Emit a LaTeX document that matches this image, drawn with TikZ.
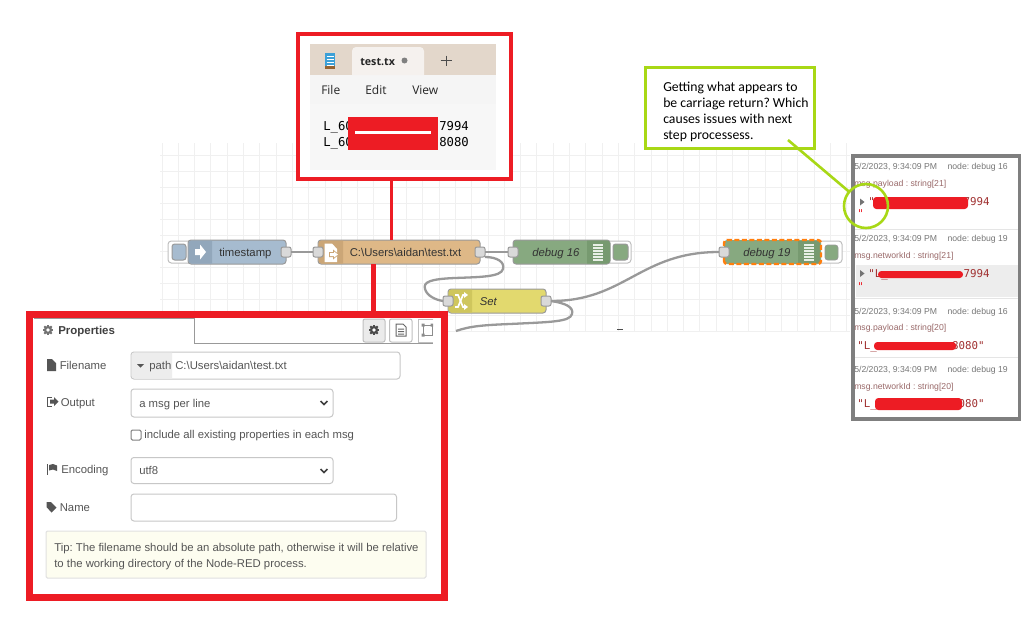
\documentclass[tikz,border=0pt]{standalone}
\usepackage{fontspec}
\setmainfont{Liberation Sans}
\newfontfamily\calloutfont{Carlito}
\newfontfamily\uifont{Open Sans}
\newfontfamily\codefont{DejaVu Sans Mono}
\definecolor{redbox}{HTML}{ED1C24}
\definecolor{limeb}{HTML}{A8D816}
\definecolor{gridc}{HTML}{F0F0F0}
\definecolor{wirec}{HTML}{999999}
\definecolor{blueN}{HTML}{A6BBCF}
\definecolor{blueD}{HTML}{92A7BB}
\definecolor{fileN}{HTML}{DEB887}
\definecolor{fileD}{HTML}{CBA677}
\definecolor{dbgN}{HTML}{87A980}
\definecolor{dbgD}{HTML}{779A70}
\definecolor{dbgL}{HTML}{E8EFE6}
\definecolor{setN}{HTML}{E2D96E}
\definecolor{setD}{HTML}{CFC65D}
\definecolor{uitext}{HTML}{555555}
\definecolor{panelb}{HTML}{7F7F7F}
\definecolor{dbgmeta}{HTML}{777777}
\definecolor{dbgname}{HTML}{9A6A6A}
\definecolor{dbgval}{HTML}{A03030}
\definecolor{orangeN}{HTML}{FF7F0E}
\definecolor{tabbar}{HTML}{E3D7CB}
\definecolor{tabface}{HTML}{F5F1EE}
\definecolor{tipbg}{HTML}{FDFDF0}
\definecolor{padblue}{HTML}{3CA0D7}
\definecolor{padbrown}{HTML}{966432}
\newcommand{\gearicon}[3]{%
  \begin{scope}[shift={(#1,#2)}]
    \foreach \a in {0,45,...,315}{\draw[#3,line width=1.8*0.75pt] (0,0) -- (\a:5.2);}
    \fill[#3] (0,0) circle[radius=4.2];
    \fill[white] (0,0) circle[radius=1.8];
  \end{scope}}
\tikzset{
  x=0.75pt,y=-0.75pt,
  flownode/.style={draw=wirec,line width=0.75pt,outer sep=0pt,rounded corners=3*0.75pt,minimum height=24*0.75pt,inner sep=0pt,anchor=west},
  port/.style={draw=wirec,fill=black!15,line width=0.75pt,outer sep=0pt,rounded corners=1.5pt,minimum size=10*0.75pt,inner sep=0pt},
  wire/.style={draw=wirec,line width=2.3*0.75pt},
  framebox/.style={fill=white,outer sep=0pt,inner sep=0pt,anchor=north west},
  lbl/.style={inner sep=0pt,anchor=mid west,yshift=-0.5pt,font=\fontsize{8.5}{11}\selectfont,text=black!80},
  lblit/.style={lbl,font=\itshape\fontsize{8.5}{11}\selectfont},
  ui/.style={inner sep=0pt,anchor=mid west,yshift=-0.5pt,font=\fontsize{8.5}{11}\selectfont,text=uitext},
  uibox/.style={draw=black!22,fill=white,line width=0.75pt,outer sep=0pt,rounded corners=2.2pt,inner sep=0pt,anchor=north west},
  meta/.style={inner sep=0pt,anchor=mid west,font=\fontsize{6.5}{8}\selectfont,text=dbgmeta},
  mname/.style={inner sep=0pt,anchor=mid west,font=\fontsize{6.5}{8}\selectfont,text=dbgname},
  mval/.style={inner sep=0pt,anchor=mid west,font=\codefont\fontsize{8.1}{9}\selectfont,text=dbgval},
  menu/.style={inner sep=0pt,anchor=mid west,yshift=-1pt,font=\uifont\fontsize{9}{11}\selectfont,text=black!85},
  code/.style={inner sep=0pt,anchor=mid west,font=\codefont\fontsize{9.2}{11}\selectfont,text=black},
  callout/.style={inner sep=0pt,anchor=mid west,font=\calloutfont\fontsize{10.3}{12}\selectfont,text=black},
  scrib/.style={fill=redbox,rounded corners=2.5pt},
}
\begin{document}
\frenchspacing
\begin{tikzpicture}
\useasboundingbox[fill=white] (0,0) rectangle (1024,621);
% grid
\begin{scope}
  \clip (160,143) rectangle (850,331);
  \foreach \gx in {0,...,42}{\draw[gridc,line width=1*0.75pt] (162+16.3*\gx,143) -- (162+16.3*\gx,331);}
  \foreach \gy in {0,...,11}{\draw[gridc,line width=1*0.75pt] (160,155+16.05*\gy) -- (850,155+16.05*\gy);}
\end{scope}
\draw[black!70,line width=0.75pt] (617,329) -- (623,329);

% flow nodes: timestamp
\draw[draw=black!25,fill=white,line width=0.75pt,rounded corners=2.5pt] (168,241) rectangle (192,263);
\fill[blueN,draw=wirec,line width=0.75pt,rounded corners=2pt] (172,244) rectangle (186,260);
\node[flownode,fill=blueN,minimum width=98*0.75pt] (nTime) at (188,252) {};
\fill[blueD,rounded corners=2.2pt] (212,240.5) -- (188.5,240.5) -- (188.5,263.5) -- (212,263.5);
\fill[white] (195,249) -- (200,249) -- (200,244.5) -- (206,252) -- (200,259.5) -- (200,255) -- (195,255) -- cycle;
\node[lbl] (tTime) at (219,252) {timestamp};

% file node
\node[flownode,fill=fileN,minimum width=162*0.75pt] (nFile) at (318,252) {};
\fill[fileD,rounded corners=2.2pt] (343,240.5) -- (318.5,240.5) -- (318.5,263.5) -- (343,263.5);
\fill[white] (324.5,243.5) -- (332,243.5) -- (337,249) -- (337,262) -- (324.5,262) -- cycle;
\fill[fileD] (329,252) -- (333,252) -- (333,249.5) -- (339,254.5) -- (333,259.5) -- (333,257) -- (329,257) -- cycle;
\fill[white] (330,253) -- (334,253) -- (334,251.5) -- (338,254.5) -- (334,257.5) -- (334,256) -- (330,256) -- cycle;
\node[lbl] (tFile) at (349.5,252) {C:\textbackslash Users\textbackslash aidan\textbackslash test.txt};

% debug 16
\draw[draw=black!25,fill=white,line width=0.75pt,rounded corners=2.5pt] (607,241) rectangle (631,263);
\fill[dbgN,draw=wirec,line width=0.75pt,rounded corners=2pt] (613,244) rectangle (628,260);
\node[flownode,fill=dbgN,minimum width=97*0.75pt] (nDbgA) at (513,252) {};
\fill[dbgD,rounded corners=2.2pt] (587,240.5) -- (610,240.5) -- (610,263.5) -- (587,263.5);
\foreach \ly in {245,248,251,254,257,260}{\draw[dbgL,line width=1.2*0.75pt] (593,\ly) -- (603,\ly);}
\node[lblit] (tDbgA) at (532,252) {debug 16};

% Set
\node[flownode,fill=setN,minimum width=98*0.75pt] (nSet) at (448,301) {};
\fill[setD,rounded corners=2.2pt] (472,289.5) -- (448.5,289.5) -- (448.5,312.5) -- (472,312.5);
\draw[white,line width=1.7*0.75pt] (455,295) -- (458,295) -- (463,307) -- (465,307);
\draw[white,line width=1.7*0.75pt] (455,307) -- (458,307) -- (463,295) -- (465,295);
\fill[white] (464,292) -- (468,295) -- (464,298) -- cycle;
\fill[white] (464,304) -- (468,307) -- (464,310) -- cycle;
\node[lblit] (tSet) at (479.5,301) {Set};

% debug 19
\draw[draw=black!25,fill=white,line width=0.75pt,rounded corners=2.5pt] (818,241) rectangle (842,263);
\fill[dbgN,draw=wirec,line width=0.5pt,rounded corners=2pt] (825,245) rectangle (838,260);
\node[draw=none,fill=dbgN,outer sep=0pt,rounded corners=3*0.75pt,minimum height=24*0.75pt,minimum width=97*0.75pt,inner sep=0pt,anchor=west] (nDbgB) at (724,252) {};
\fill[dbgD] (798,241) rectangle (820,263);
\foreach \ly in {245,248,251,254,257,260}{\draw[dbgL,line width=1.2*0.75pt] (804,\ly) -- (814,\ly);}
\draw[draw=orangeN,line width=2.4*0.75pt,dash pattern=on 5*0.75pt off 2.5*0.75pt,rounded corners=3*0.75pt] (nDbgB.south west) rectangle (nDbgB.north east);
\node[lblit] (tDbgB) at (743,252) {debug 19};

% ports
\node[port] (pTimeOut) at (nTime.east) {};
\node[port] (pFileIn) at (nFile.west) {};
\node[port] (pFileOut) at (nFile.east) {};
\node[port] (pDbgAIn) at (nDbgA.west) {};
\node[port] (pSetIn) at (nSet.west) {};
\node[port] (pSetOut) at (nSet.east) {};
\node[port] (pDbgBIn) at (nDbgB.west) {};
\coordinate (wireEnd) at (456,331);

% wires
\draw[wire] (pTimeOut.east) -- (pFileIn.west);
\draw[wire] (pFileOut.east) -- (pDbgAIn.west);
\draw[wire] (pFileOut.south east) .. controls (497,257) and (505,262) .. (503,269) .. controls (501,277) and (480,277) .. (455,278) .. controls (430,279) and (423,282) .. (425,289) .. controls (427,296) and (436,300) .. (pSetIn.west);
\draw[wire] (pSetOut.east) .. controls (625,301) and (640,252) .. (pDbgBIn.west);
\draw[wire] (pSetOut.east) .. controls (565,303) and (574,307) .. (572,314) .. controls (570,322) and (550,322) .. (510,324) .. controls (485,325) and (470,326) .. (wireEnd);

% notepad capture
\node[framebox,draw=redbox,line width=4*0.75pt,minimum width=212.5*0.75pt,minimum height=145*0.75pt] (boxTop) at (298,34) {};
\fill[black!3] (310,104) rectangle (496,170);
\fill[black!4] (310,75) rectangle (496,104);
\fill[tabbar] (310,44) rectangle (496,75);
\fill[tabface,rounded corners=3pt] (352,75) -- (352,47) -- (424,47) -- (424,75);
% notepad glyph
\fill[padblue] (325,53) rectangle (335,67);
\fill[padbrown] (325,66) rectangle (335,68.5);
\foreach \ly in {56,59,62,65}{\draw[white,line width=0.6pt] (326.5,\ly) -- (333.5,\ly);}
\node[menu,font=\uifont\bfseries\fontsize{8}{10}\selectfont] (tTab) at (360,61) {test.tx};
\fill[black!50] (404.5,60.5) circle[radius=3];
\draw[black!70,line width=0.75pt] (446,55.5) -- (446,66) (440.5,60.7) -- (451.5,60.7);
\node[menu] (mFile) at (321,90) {File};
\node[menu] (mEdit) at (365,90) {Edit};
\node[menu] (mView) at (412,90) {View};
\node[code] (cA1) at (323,127) {L\_60};
\node[code] (cB1) at (323,143) {L\_60};
\node[code] (cA2) at (439,127) {7994};
\node[code] (cB2) at (439,143) {8080};
\fill[redbox] (348,117) rectangle (438,150);
\fill[white] (355,131) rectangle (431,134);

% connector top box to file node
\coordinate (topTap) at (391.5,181);
\draw[redbox,line width=3.5*0.75pt] (topTap) -- (topTap |- nFile.north);

% debug panel
\node[framebox,draw=panelb,line width=3.4*0.75pt,minimum width=166.5*0.75pt,minimum height=263*0.75pt] (boxDbg) at (853,156) {};
\fill[black!7] (856,265) rectangle (1018,297);
\foreach \ly in {229,298,357}{\draw[black!10,line width=0.75pt] (855,\ly) -- (1018,\ly);}
\node[meta] (a1) at (854,166) {5/2/2023, 9:34:09 PM\hspace{6pt} node: debug 16};
\node[mname] (a2) at (854,183) {msg.payload : string[21]};
\fill[black!55] (860,198.5) -- (864.5,202) -- (860,205.5) -- cycle;
\node[mval] (a3) at (868,202) {"};
\node[mval,anchor=mid east] (a4) at (990,202) {7994};
\node[mval,text=redbox] (a5) at (857,214) {"};
\fill[scrib] (873,197) rectangle (968,209);
\node[meta] (b1) at (854,238) {5/2/2023, 9:34:09 PM\hspace{6pt} node: debug 19};
\node[mname] (b2) at (854,255) {msg.networkId : string[21]};
\fill[black!55] (860,270) -- (864.5,273.5) -- (860,277) -- cycle;
\node[mval] (b3) at (868,274) {"L\_};
\node[mval,anchor=mid east] (b4) at (990,274) {7994};
\node[mval,text=redbox] (b5) at (857,287) {"};
\fill[scrib] (878,271) rectangle (963,278);
\node[meta] (c1) at (854,311) {5/2/2023, 9:34:09 PM\hspace{6pt} node: debug 16};
\node[mname] (c2) at (854,327) {msg.payload : string[20]};
\node[mval] (c3) at (857,346) {"L\_};
\node[mval,anchor=mid east] (c4) at (985,346) {8080"};
\fill[scrib] (874,342) rectangle (956,350);
\node[meta] (d1) at (854,369) {5/2/2023, 9:34:09 PM\hspace{6pt} node: debug 19};
\node[mname] (d2) at (854,386) {msg.networkId : string[20]};
\node[mval] (d3) at (857,404) {"L\_};
\node[mval,anchor=mid east] (d4) at (985,404) {8080"};
\fill[scrib] (875,398) rectangle (962,410);

% callout
\node[framebox,draw=limeb,line width=3*0.75pt,minimum width=169*0.75pt,minimum height=81*0.75pt] (boxNote) at (645,67) {};
\node[callout] (n1) at (663,88) {Getting what appears to};
\node[callout] (n2) at (663,104) {be carriage return? Which};
\node[callout] (n3) at (663,120) {causes issues with next};
\node[callout] (n4) at (663,136) {step processess.};
\node[draw=limeb,line width=2.6*0.75pt,outer sep=0pt,circle,minimum size=44*0.75pt,inner sep=0pt] (ring) at (866,206) {};
\coordinate (noteTail) at (788,140);
\draw[limeb,line width=2.6*0.75pt] (noteTail) -- (ring);

% properties panel
\node[framebox,draw=redbox,line width=7*0.75pt,minimum width=415*0.75pt,minimum height=283.5*0.75pt] (boxProps) at (29.5,314) {};
\coordinate (propTap) at (373.5,311);
\draw[redbox,line width=5.5*0.75pt] (propTap) -- (propTap |- nFile.south);
\draw[black!40,line width=0.75pt] (34,318.5) -- (194.5,318.5) -- (194.5,343.5) -- (433,343.5);
\gearicon{48}{330}{black!55}
\node[ui,font=\bfseries\fontsize{8.6}{11}\selectfont,text=black!75] (tProps) at (58,330) {Properties};
\fill[black!8,draw=black!25,line width=0.75pt,rounded corners=1.5pt] (363,319) rectangle (385,342);
\gearicon{374}{330}{black!70}
\draw[draw=black!25,line width=0.75pt,rounded corners=1.5pt] (389.5,319) rectangle (412,342);
\draw[black!60,line width=0.75pt] (396,324) -- (403,324) -- (406,327) -- (406,336) -- (396,336) -- cycle (398,329) -- (404,329) (398,331.5) -- (404,331.5) (398,334) -- (404,334);
\draw[draw=black!25,line width=0.75pt] (433,319) -- (418,319) -- (418,342) -- (433,342);
\draw[black!45,line width=0.75pt] (423,325) rectangle (432,335);
\fill[black!45] (421.5,323.5) rectangle (424.5,326.5) (421.5,333.5) rectangle (424.5,336.5) (430.5,323.5) rectangle (433,326.5);

% Filename
\fill[uitext] (47,359) -- (52,359) -- (56,363) -- (56,371) -- (47,371) -- cycle;
\node[ui] (lFile) at (59.5,365) {Filename};
\node[uibox,minimum width=269*0.75pt,minimum height=27*0.75pt] (inFile) at (131,352) {};
\fill[black!7,rounded corners=2.2pt] (172,352.5) -- (131.5,352.5) -- (131.5,378.5) -- (172,378.5);
\fill[uitext] (137,364) -- (144,364) -- (140.5,367.5) -- cycle;
\node[ui] (tPath) at (149,365) {path};
\node[ui] (tPathV) at (175,365.5) {C:\textbackslash Users\textbackslash aidan\textbackslash test.txt};
% Output
\draw[uitext,line width=0.75pt] (52,397) -- (47.5,397) -- (47.5,406) -- (52,406);
\fill[uitext] (50,399.5) -- (54,399.5) -- (54,397) -- (58.5,401.5) -- (54,406) -- (54,403.5) -- (50,403.5) -- cycle;
\node[ui] (lOut) at (60.5,402) {Output};
\node[uibox,minimum width=202*0.75pt,minimum height=28*0.75pt] (selOut) at (131,389) {};
\node[ui] (tOut) at (139,403) {a msg per line};
\draw[black!75,line width=1.5*0.75pt] (320.5,401) -- (324,404.5) -- (327.5,401);
% checkbox
\node[draw=black!50,fill=white,line width=0.75pt,outer sep=0pt,rounded corners=1pt,minimum size=10*0.75pt,inner sep=0pt] (chk) at (136,435) {};
\node[ui] (lChk) at (144,434.5) {include all existing properties in each msg};
% Encoding
\draw[uitext,line width=0.75pt] (47.5,464) -- (47.5,475);
\fill[uitext] (49,465) -- (53,464) -- (57,465.5) -- (57,471) -- (53,469.5) -- (49,470.5) -- cycle;
\node[ui] (lEnc) at (61,469) {Encoding};
\node[uibox,minimum width=202*0.75pt,minimum height=26*0.75pt] (selEnc) at (131,457.5) {};
\node[ui] (tEnc) at (139,470) {utf8};
\draw[black!75,line width=1.5*0.75pt] (320.5,469) -- (324,472.5) -- (327.5,469);
% Name
\fill[uitext] (46.5,502) -- (51,502) -- (56.5,507.5) -- (51.5,512.5) -- (46.5,507) -- cycle;
\node[ui] (lName) at (59.5,507) {Name};
\node[uibox,minimum width=265.5*0.75pt,minimum height=27*0.75pt] (inName) at (131,494) {};
% Tip
\node[draw=black!12,fill=tipbg,line width=0.75pt,outer sep=0pt,rounded corners=1pt,minimum width=380*0.75pt,minimum height=47*0.75pt,inner sep=0pt,anchor=north west] (tipBox) at (46,531) {};
\node[ui] (tipA) at (54,547) {Tip: The filename should be an absolute path, otherwise it will be relative};
\node[ui] (tipB) at (54,563) {to the working directory of the Node-RED process.};
\end{tikzpicture}
\end{document}
